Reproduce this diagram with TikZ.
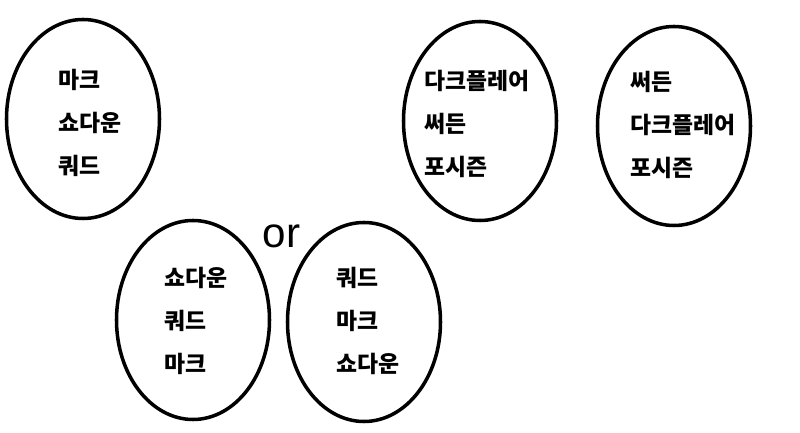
\documentclass[tikz,border=0pt]{standalone}
\usepackage{fontspec}
\setmainfont{Noto Sans CJK KR}
\newfontfamily\orfont{Liberation Sans}
\usetikzlibrary{shapes.geometric,scopes}
\begin{document}
\begin{tikzpicture}[x=0.03cm, y=-0.03cm, line width=3pt]
			\useasboundingbox (0,0) rectangle (800,433);

			{ [ellipse, minimum width=4.59cm, minimum height=5.97cm, inner sep=0]
				\node[draw] (E1) at (83,119) {};
				\node[draw] (E2) at (193,320) {};
				\node[draw] (E3) at (364,322) {};
				\node[draw] (E4) at (480,121) {};
				\node[draw] (E5) at (674,126) {};
			}

			{ [font=\bfseries\fontsize{19.5pt}{36.7pt}\selectfont, align=left, anchor=west, inner sep=0]
				\node (L1) at (57,123) {마크\\쇼다운\\쿼드};
				\node (L2) at (163,321) {쇼다운\\쿼드\\마크};
				\node (L3) at (335,321) {쿼드\\마크\\쇼다운};
				\node (L4) at (423,124) {다크플레어\\써든\\포시즌};
				\node (L5) at (629,125) {써든\\다크플레어\\포시즌};
			}

			\node[font=\orfont\fontsize{36pt}{36pt}\selectfont, anchor=base west, inner sep=0] (or) at (261,248) {or};
		\end{tikzpicture}
\end{document}
